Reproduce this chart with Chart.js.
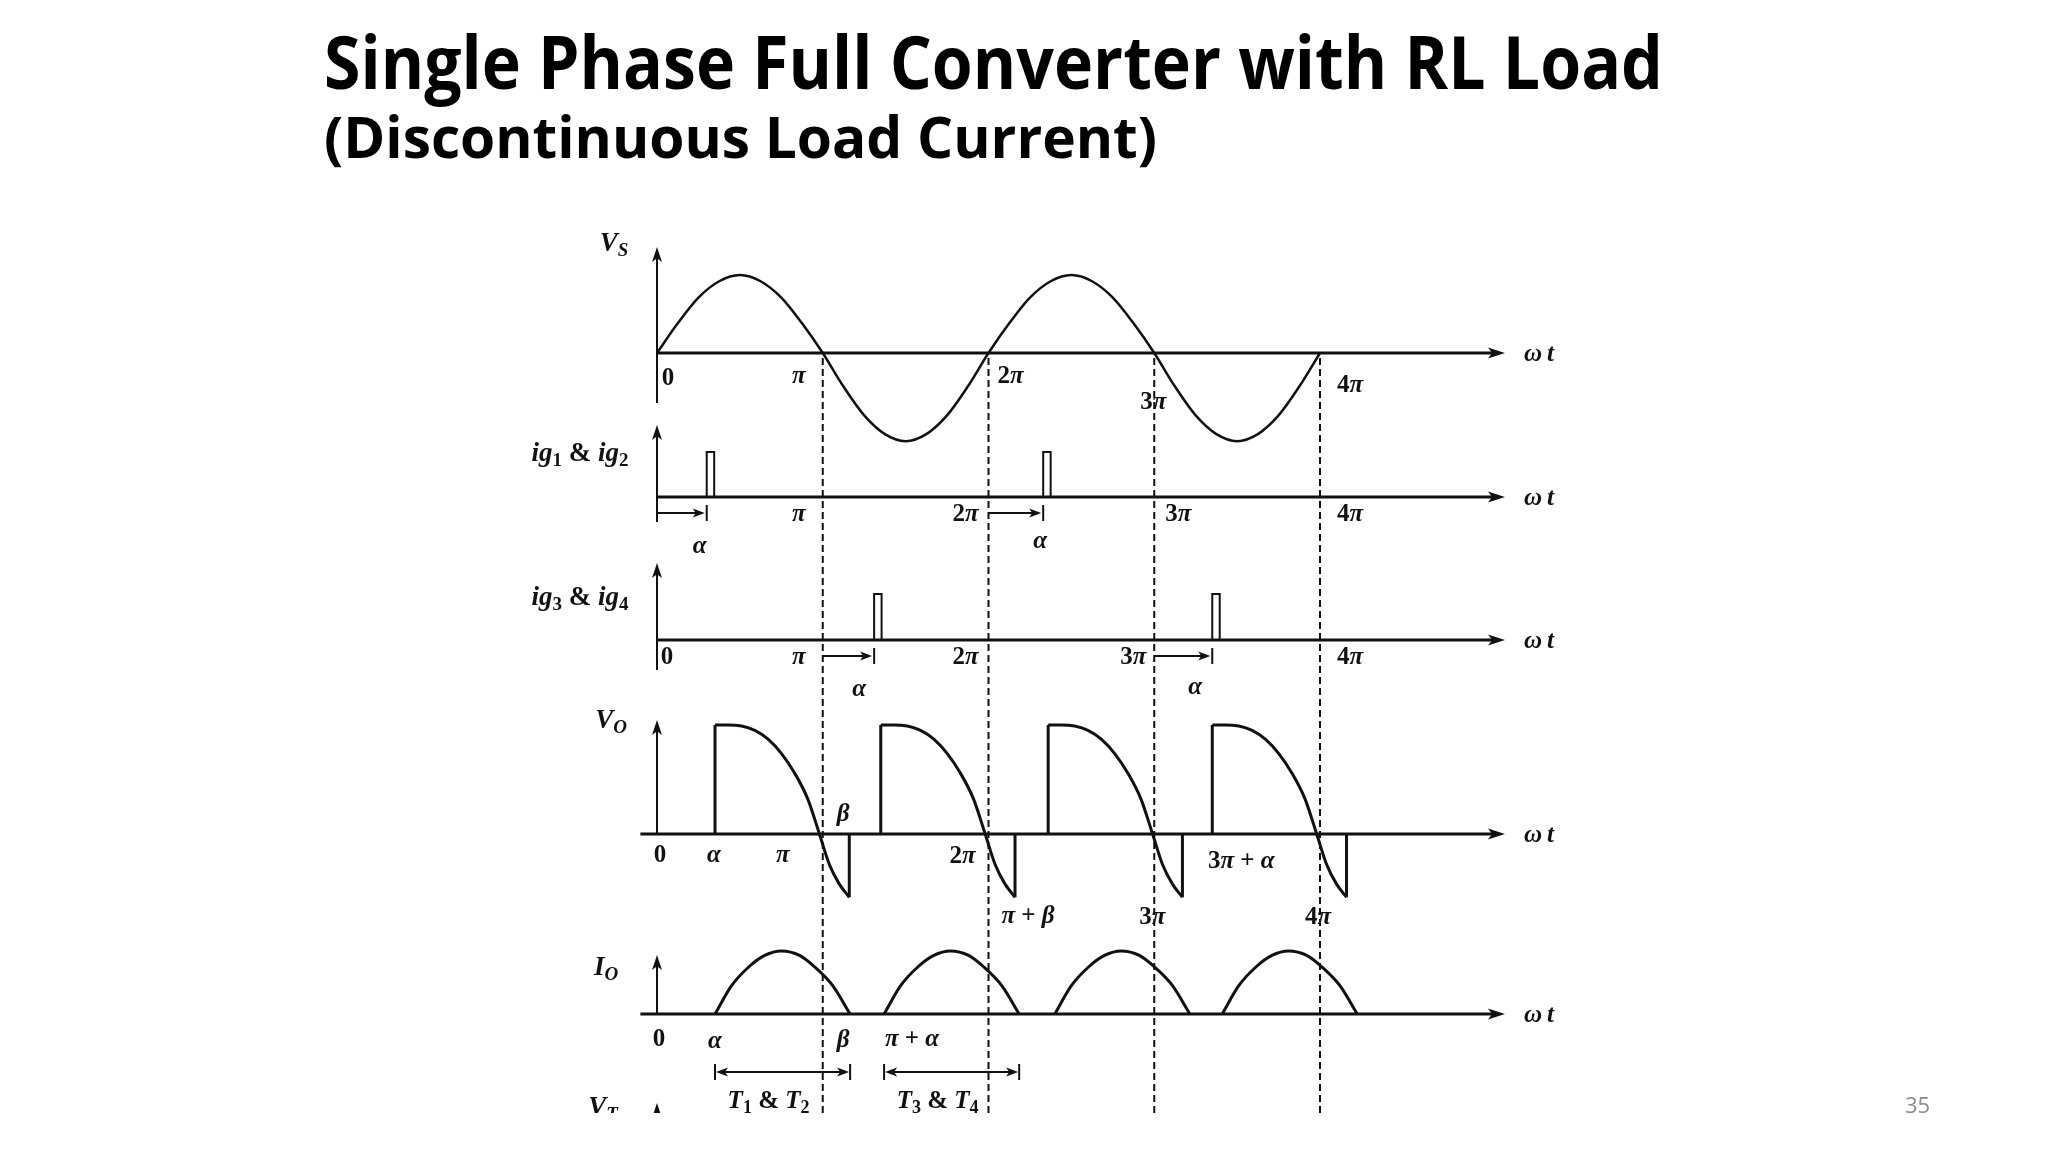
<!DOCTYPE html>
<html lang="en">
<head>
<meta charset="utf-8">
<title>Single Phase Full Converter with RL Load</title>
<script src="https://cdn.jsdelivr.net/npm/chart.js@4.4.1/dist/chart.umd.min.js"></script>
<style>
  html, body { margin: 0; padding: 0; background: #fff; }
  body { position: relative; width: 2048px; height: 1152px; overflow: hidden; }
  #wave { position: absolute; left: 0; top: 0; }
  .title { position: absolute; left: 324px; margin: 0; font-family: "Open Sans", "Noto Sans", sans-serif; font-weight: 700; line-height: 1; white-space: nowrap; color: #000; transform-origin: left top; }
  #t1 { top: 24px; font-size: 73px; }
  #t2 { top: 108px; font-size: 57px; }
  #page { position: absolute; left: 1905px; top: 1093px; font: 22px "Open Sans", sans-serif; color: #8c8c8c; line-height: 1; }
</style>
</head>
<body>
<canvas id="wave" width="2048" height="1113"></canvas>
<h1 class="title" id="t1">Single Phase Full Converter with RL Load</h1>
<h2 class="title" id="t2">(Discontinuous Load Current)</h2>
<div id="page">35</div>
<script>
// ángulos en múltiplos de π
const vsAngles = [0, 0.125, 0.25, 0.375, 0.5, 0.625, 0.75, 0.875, 1, 1.125, 1.25, 1.375, 1.5, 1.625, 1.75, 1.875,
  2, 2.125, 2.25, 2.375, 2.5, 2.625, 2.75, 2.875, 3, 3.125, 3.25, 3.375, 3.5, 3.625, 3.75, 3.875, 4];
const vsValues = [0, 0.38, 0.71, 0.92, 1, 0.92, 0.71, 0.38, 0, -0.43, -0.8, -1.04, -1.13, -1.04, -0.8, -0.43,
  0, 0.38, 0.71, 0.92, 1, 0.92, 0.71, 0.38, 0, -0.43, -0.8, -1.04, -1.13, -1.04, -0.8, -0.43, 0];

// pulsos de disparo
const g12Starts = [0.30, 2.33];
const g12RefAngles = [0, 2];
const g34Starts = [1.31, 3.35];
const g34RefAngles = [1, 3];
const gateWidth = 0.045;

// tensión de salida: inicio de cada pulso y forma común
const voStarts = [0.35, 1.35, 2.36, 3.35];
const voShapeDx = [0, 0.08, 0.16, 0.24, 0.32, 0.40, 0.48, 0.56, 0.63, 0.69, 0.75, 0.81];
const voShapeV = [1, 1, 0.99, 0.95, 0.87, 0.74, 0.56, 0.32, 0, -0.28, -0.46, -0.58];

// corriente de carga
const ioStarts = [0.35, 1.37, 2.40, 3.41];
const ioShapeDx = [0, 0.10, 0.205, 0.30, 0.40, 0.51, 0.60, 0.71, 0.815];
const ioShapeV = [0, 0.45, 0.75, 0.93, 1, 0.93, 0.75, 0.45, 0];

const guideAngles = [1, 2, 3, 4];

// textos de los ejes
const vsTickText = ['0', 'π', '2π', '3π', '4π'];
const vsTickAt = [0, 1, 2, 3, 4];
const g12TickText = ['π', '2π', '3π', '4π', 'α', 'α'];
const g12TickAt = [1, 2, 3, 4, 0.30, 2.33];
const g34TickText = ['0', 'π', '2π', '3π', '4π', 'α', 'α'];
const g34TickAt = [0, 1, 2, 3, 4, 1.31, 3.35];
const voTickText = ['0', 'α', 'π', 'β', '2π', 'π + β', '3π', '3π + α', '4π'];
const voTickAt = [0, 0.35, 1, 1.16, 2, 2.16, 3, 3.35, 4];
const ioTickText = ['0', 'α', 'β', 'π + α'];
const ioTickAt = [0, 0.35, 1.165, 1.37];
const intervalText = ['T_1 & T_2', 'T_3 & T_4'];
const panelNames = { vs: 'V_S', g12: 'ig_1 & ig_2', g34: 'ig_3 & ig_4', vo: 'V_O', io: 'I_O' };

// ---- disposición (px) ----
const ink = '#111';
const frame = { width: 2048, height: 1113, originX: 657, pxPerPi: 165.75, axisEnd: 5.116, guideTop: 358 };
const P = {
  vs:  { base: 353,  amp: 78,  axisTop: 247, axisBottom: 403, lineFrom: 0 },
  g12: { base: 497,  amp: 45,  axisTop: 425, axisBottom: 522, lineFrom: 0 },
  g34: { base: 640,  amp: 46,  axisTop: 563, axisBottom: 670, lineFrom: 0 },
  vo:  { base: 834,  amp: 109, axisTop: 720, axisBottom: 834, lineFrom: -0.1 },
  io:  { base: 1014, amp: 63,  axisTop: 955, axisBottom: 1014, lineFrom: -0.1 }
};
const tickNudge = {
  vs: [[11, 24], [-24, 22], [22, 22], [-1, 48], [30, 31]],
  g12: [[-24, 16], [-23, 16], [24, 16], [30, 16], [-7, 48], [-3, 43]],
  g34: [[10, 16], [-24, 16], [-23, 16], [-21, 16], [30, 16], [-15, 48], [-17, 46]],
  vo: [[3, 20], [-1, 20], [-40, 20], [-6, -21], [-26, 21], [13, 81], [-2, 82], [29, 26], [-2, 82]],
  io: [[2, 24], [0, 26], [-7, 25], [28, 24]]
};
const nameNudge = { vs: [-43, -111], g12: [-77, -45], g34: [-77, -44], vo: [-46, -115], io: [-51, -48] };
const ticks = {
  vs: [vsTickText, vsTickAt], g12: [g12TickText, g12TickAt], g34: [g34TickText, g34TickAt],
  vo: [voTickText, voTickAt], io: [ioTickText, ioTickAt]
};

function pt(p, x, v) { return { x: x, y: v === null ? null : p.base - p.amp * v }; }
const gap = x => ({ x: x, y: null });

const vsData = vsAngles.map((a, i) => pt(P.vs, a, vsValues[i]));
function gateData(p, starts) {
  return starts.flatMap(s => [pt(p, s, 0), pt(p, s, 1), pt(p, s + gateWidth, 1), pt(p, s + gateWidth, 0), gap(s + gateWidth)]);
}
const voEnd = voShapeDx[voShapeDx.length - 1];
const voCurve = voStarts.flatMap(s => voShapeDx.map((d, i) => pt(P.vo, s + d, voShapeV[i])).concat([gap(s + voEnd)]));
const voEdges = voStarts.flatMap(s => [pt(P.vo, s, 0), pt(P.vo, s, 1), gap(s),
  pt(P.vo, s + voEnd, voShapeV[voShapeV.length - 1]), pt(P.vo, s + voEnd, 0), gap(s + voEnd)]);
const ioCurve = ioStarts.flatMap(s => ioShapeDx.map((d, i) => pt(P.io, s + d, ioShapeV[i])).concat([gap(s + 0.9)]));
const guides = guideAngles.flatMap(g => [{ x: g, y: frame.guideTop }, { x: g, y: frame.height }, gap(g)]);

// texto matemático: letras en cursiva, cifras rectas, "_" marca subíndice
function drawMath(ctx, text, cx, cy, size) {
  const runs = [];
  for (let i = 0; i < text.length; i++) {
    let ch = text[i], sub = false;
    if (ch === '_') { sub = true; ch = text[++i]; }
    runs.push({ s: ch, sub: sub, italic: !/[0-9+&\s]/.test(ch) });
  }
  const fontFor = r => `${r.italic ? 'italic ' : ''}bold ${r.sub ? Math.round(size * 0.7) : size}px "Liberation Serif", serif`;
  let total = 0;
  runs.forEach(r => { ctx.font = fontFor(r); r.w = ctx.measureText(r.s).width; total += r.w; });
  let x = cx - total / 2;
  const base = cy + size * 0.33;
  ctx.textAlign = 'left';
  ctx.textBaseline = 'alphabetic';
  runs.forEach(r => {
    ctx.font = fontFor(r);
    ctx.fillText(r.s, x, r.sub ? base + size * 0.2 : base);
    x += r.w;
  });
}

function line(ctx, x0, y0, x1, y1) {
  ctx.beginPath(); ctx.moveTo(x0, y0); ctx.lineTo(x1, y1); ctx.stroke();
}
function head(ctx, tx, ty, dir, len, half) {
  ctx.beginPath();
  ctx.moveTo(tx, ty);
  if (dir === 'right') { ctx.lineTo(tx - len, ty - half); ctx.lineTo(tx - len * 0.75, ty); ctx.lineTo(tx - len, ty + half); }
  else if (dir === 'left') { ctx.lineTo(tx + len, ty - half); ctx.lineTo(tx + len * 0.75, ty); ctx.lineTo(tx + len, ty + half); }
  else { ctx.lineTo(tx - half, ty + len); ctx.lineTo(tx, ty + len * 0.75); ctx.lineTo(tx + half, ty + len); }
  ctx.closePath(); ctx.fill();
}

const diagram = {
  id: 'diagram',
  beforeDatasetsDraw(chart) {
    const { ctx, scales: { x, y } } = chart;
    ctx.save();
    ctx.fillStyle = ink; ctx.strokeStyle = ink;
    const ax = x.getPixelForValue(0);
    Object.values(P).forEach(p => {
      const by = y.getPixelForValue(p.base);
      const xe = x.getPixelForValue(frame.axisEnd);
      ctx.lineWidth = 3;
      line(ctx, x.getPixelForValue(p.lineFrom), by, xe - 12, by);
      head(ctx, xe, by, 'right', 17, 5.5);
      ctx.lineWidth = 2;
      line(ctx, ax, y.getPixelForValue(p.axisBottom), ax, y.getPixelForValue(p.axisTop) + 10);
      head(ctx, ax, y.getPixelForValue(p.axisTop), 'up', 15, 5);
    });
    // eje de V_T, cortado por el borde inferior
    head(ctx, ax, 1103, 'up', 15, 5);
    line(ctx, ax, 1112, ax, 1130);
    ctx.restore();
  },
  afterDatasetsDraw(chart) {
    const { ctx, scales: { x, y } } = chart;
    ctx.save();
    ctx.fillStyle = ink; ctx.strokeStyle = ink;
    const ax = x.getPixelForValue(0);
    const xe = x.getPixelForValue(frame.axisEnd);
    Object.keys(P).forEach(k => {
      const p = P[k];
      const [texts, at] = ticks[k];
      texts.forEach((t, i) => {
        const [dx, dy] = tickNudge[k][i];
        drawMath(ctx, t, x.getPixelForValue(at[i]) + dx, y.getPixelForValue(p.base) + dy, 25);
      });
      drawMath(ctx, 'ω\u2009t', xe + 34, y.getPixelForValue(p.base), 25);
      drawMath(ctx, panelNames[k], ax + nameNudge[k][0], y.getPixelForValue(p.base) + nameNudge[k][1], 27);
    });
    drawMath(ctx, 'V_T', 603, 1106, 27);

    // flechas de retardo α bajo los pulsos
    ctx.lineWidth = 2;
    [[P.g12, g12RefAngles, g12Starts], [P.g34, g34RefAngles, g34Starts]].forEach(([p, from, to]) => {
      from.forEach((f, i) => {
        const ay = p.base + 16, xa = x.getPixelForValue(f), xb = x.getPixelForValue(to[i]);
        line(ctx, xa, ay, xb - 8, ay);
        head(ctx, xb - 2, ay, 'right', 12, 4.5);
        line(ctx, xb, ay - 8, xb, ay + 8);
      });
    });

    // intervalos de conducción
    ioStarts.slice(0, 2).forEach((s, i) => {
      const ay = P.io.base + 58;
      const xa = x.getPixelForValue(s), xb = x.getPixelForValue(s + ioShapeDx[ioShapeDx.length - 1]);
      line(ctx, xa + 8, ay, xb - 8, ay);
      head(ctx, xa + 1, ay, 'left', 12, 4.5);
      head(ctx, xb - 1, ay, 'right', 12, 4.5);
      line(ctx, xa, ay - 8, xa, ay + 8);
      line(ctx, xb, ay - 8, xb, ay + 8);
      drawMath(ctx, intervalText[i], (xa + xb) / 2 - 14, P.io.base + 86, 25);
    });
    ctx.restore();
  }
};

new Chart(document.getElementById('wave'), {
  type: 'line',
  data: {
    datasets: [
      { data: guides, borderWidth: 2, borderDash: [7, 4], tension: 0 },
      { data: vsData, borderWidth: 2.5, cubicInterpolationMode: 'monotone' },
      { data: gateData(P.g12, g12Starts), borderWidth: 2, tension: 0 },
      { data: gateData(P.g34, g34Starts), borderWidth: 2, tension: 0 },
      { data: voCurve, borderWidth: 3, cubicInterpolationMode: 'monotone' },
      { data: voEdges, borderWidth: 3, tension: 0 },
      { data: ioCurve, borderWidth: 3, cubicInterpolationMode: 'monotone' }
    ]
  },
  options: {
    responsive: false,
    animation: false,
    events: [],
    layout: { padding: 0 },
    elements: { point: { radius: 0 }, line: { borderColor: ink, fill: false } },
    plugins: { legend: { display: false }, tooltip: { enabled: false } },
    scales: {
      x: { type: 'linear', display: false, min: -frame.originX / frame.pxPerPi, max: (frame.width - frame.originX) / frame.pxPerPi },
      y: { type: 'linear', display: false, min: 0, max: frame.height, reverse: true }
    }
  },
  plugins: [diagram]
});

// ajustar el ancho de los títulos al de la diapositiva
function fitWidth(id, target) {
  const el = document.getElementById(id);
  el.style.transform = `scaleX(${target / el.getBoundingClientRect().width})`;
}
fitWidth('t1', 1339);
fitWidth('t2', 833);
</script>
</body>
</html>
